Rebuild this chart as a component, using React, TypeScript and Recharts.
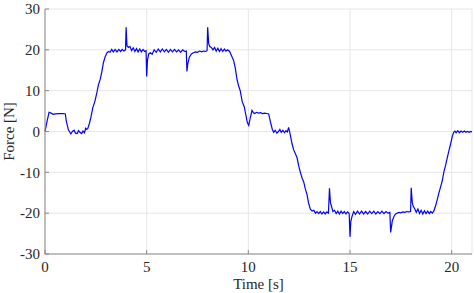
import React from 'react';
import { LineChart, Line, XAxis, YAxis, CartesianGrid } from 'recharts';

// [time s, force N], segment by segment
const startStep = [
  [0, 0], [0.1, 2.5], [0.2, 4.7], [0.3, 4.5], [0.4, 4.2], [0.5, 4.3], [0.7, 4.4], [0.9, 4.4],
  [1.0, 4.3], [1.05, 2.5], [1.15, 0.4], [1.27, -0.6], [1.35, 0.0], [1.43, 0.3], [1.5, -0.4],
  [1.58, -0.5], [1.65, 0.2], [1.72, -0.2], [1.8, -0.5], [1.87, 0.1], [1.94, -0.3], [2.0, 0.8],
  [2.05, 0.5], [2.1, 0.7],
];
const riseToTop = [
  [2.18, 1.9], [2.26, 3.5], [2.35, 5.8], [2.46, 7.5], [2.55, 9.5], [2.63, 11.5], [2.71, 12.7],
  [2.79, 14.5], [2.87, 16.8], [2.96, 18.3], [3.04, 19.2], [3.12, 19.6],
];
const topPlateau = [
  [3.2, 19.4], [3.28, 20.1], [3.36, 19.5], [3.45, 20.1], [3.54, 19.5], [3.63, 20.1], [3.72, 19.6],
  [3.8, 20.1], [3.88, 19.7], [3.96, 20.0], [3.99, 25.5], [4.03, 21.0], [4.1, 20.6], [4.18, 20.8],
  [4.26, 19.8], [4.34, 20.5], [4.42, 19.6], [4.5, 20.3], [4.58, 19.5], [4.66, 20.2], [4.74, 19.5],
  [4.82, 20.1], [4.9, 19.6], [4.97, 19.8], [5.0, 13.5], [5.04, 17.5], [5.1, 19.0], [5.18, 19.3],
  [5.27, 18.9], [5.37, 20.0], [5.47, 19.4], [5.57, 20.2], [5.67, 19.5], [5.77, 20.2], [5.87, 19.5],
  [5.97, 20.1], [6.07, 19.4], [6.17, 20.1], [6.27, 19.5], [6.37, 20.1], [6.47, 19.5], [6.57, 20.0],
  [6.67, 19.4], [6.77, 20.0], [6.87, 19.6], [6.95, 19.7], [6.98, 14.7], [7.02, 16.5], [7.1, 18.2],
  [7.2, 19.0], [7.3, 19.3], [7.4, 19.5], [7.5, 19.4], [7.6, 19.7], [7.7, 19.5], [7.8, 19.7],
  [7.9, 19.6], [7.97, 19.8], [8.0, 25.5], [8.05, 21.5], [8.1, 20.8], [8.18, 20.6], [8.26, 20.0],
  [8.34, 20.6], [8.42, 19.7], [8.5, 20.4], [8.58, 19.6], [8.66, 20.3], [8.74, 19.6], [8.82, 20.2],
  [8.9, 19.7], [8.98, 20.0], [9.08, 19.6],
];
const fallToMid = [
  [9.18, 18.5], [9.28, 17.3], [9.36, 15.5], [9.44, 12.8], [9.52, 11.2], [9.6, 10.0], [9.7, 7.3],
  [9.8, 6.0], [9.88, 4.0], [9.95, 2.2], [10.02, 1.5],
];
const midStep = [
  [10.08, 3.0], [10.18, 5.2], [10.25, 4.6], [10.32, 4.4], [10.4, 4.7], [10.5, 4.5], [10.6, 4.6],
  [10.7, 4.4], [10.8, 4.5], [10.9, 4.4], [11.0, 4.3], [11.08, 2.5], [11.18, 0.5], [11.25, -0.2],
  [11.32, 0.3], [11.4, -0.4], [11.48, 0.0], [11.55, 0.5], [11.62, -0.2], [11.7, 0.3], [11.78, -0.3],
  [11.85, 0.2], [11.92, -0.1], [11.98, 1.0], [12.05, -0.5],
];
const fallToBottom = [
  [12.15, -3.0], [12.23, -4.5], [12.32, -5.5], [12.4, -6.5], [12.48, -8.5], [12.56, -10.0],
  [12.65, -11.5], [12.72, -12.3], [12.8, -14.0], [12.89, -15.5], [12.96, -17.5], [13.05, -19.0],
  [13.14, -19.5], [13.22, -19.3], [13.3, -20.0],
];
const bottomPlateau = [
  [13.38, -19.6], [13.46, -20.1], [13.54, -19.6], [13.62, -20.2], [13.7, -19.7], [13.78, -20.2],
  [13.86, -19.7], [13.94, -20.0], [13.99, -13.9], [14.04, -17.5], [14.09, -18.3], [14.16, -19.6],
  [14.24, -19.3], [14.32, -20.1], [14.4, -19.5], [14.48, -20.2], [14.56, -19.5], [14.64, -20.1],
  [14.72, -19.6], [14.8, -20.2], [14.88, -19.7], [14.96, -20.1], [15.0, -25.8], [15.04, -22.0],
  [15.1, -20.8], [15.18, -19.6], [15.27, -20.3], [15.37, -19.5], [15.47, -20.2], [15.57, -19.5],
  [15.67, -20.2], [15.77, -19.6], [15.87, -20.2], [15.97, -19.5], [16.07, -20.1], [16.17, -19.5],
  [16.27, -20.2], [16.37, -19.6], [16.47, -20.1], [16.57, -19.5], [16.67, -20.1], [16.77, -19.6],
  [16.87, -20.0], [16.96, -19.8], [17.0, -24.7], [17.08, -21.9], [17.16, -20.8], [17.24, -20.2],
  [17.4, -19.8], [17.5, -19.9], [17.6, -19.7], [17.7, -19.8], [17.8, -19.6], [17.9, -19.7],
  [17.98, -19.6], [18.01, -13.8], [18.06, -17.3], [18.1, -18.2], [18.18, -18.9], [18.26, -19.8],
  [18.34, -19.0], [18.42, -20.1], [18.5, -19.3], [18.58, -20.2], [18.66, -19.4], [18.74, -20.1],
  [18.82, -19.5], [18.9, -20.1], [18.97, -19.6], [19.05, -20.0],
];
const riseToZero = [
  [19.12, -19.5], [19.21, -18.2], [19.3, -16.5], [19.38, -14.9], [19.46, -13.5], [19.54, -12.0],
  [19.62, -9.8], [19.7, -8.3], [19.78, -6.5], [19.86, -4.8], [19.95, -3.0], [20.03, -1.2],
  [20.1, -0.2],
];
const endFlat = [
  [20.16, 0.1], [20.22, -0.3], [20.3, 0.2], [20.38, -0.3], [20.46, 0.1], [20.54, -0.2], [20.62, 0.1],
  [20.7, -0.2], [20.78, 0.0], [20.86, -0.2], [20.94, 0.0], [21.0, -0.1],
];

const xTicks = [0, 5, 10, 15, 20];
const yTicks = [-30, -20, -10, 0, 10, 20, 30];

const data = [
  startStep, riseToTop, topPlateau, fallToMid, midStep,
  fallToBottom, bottomPlateau, riseToZero, endFlat,
].flat().map(([t, f]) => ({ t, f }));

const font = 'Liberation Serif, Times New Roman, serif';
const axisColor = '#8a8a8a';
const tickStyle = { fill: '#262626', fontSize: 15, fontFamily: font };

export default function App() {
  return (
    <div style={{ position: 'fixed', left: 0, top: 0, width: 474, height: 293, background: '#fff' }}>
      <LineChart width={474} height={293} data={data} margin={{ top: 9, right: 2, left: 0, bottom: 0 }}>
        <CartesianGrid stroke="#e6e6e6" />
        <XAxis
          dataKey="t"
          type="number"
          domain={[0, 21]}
          ticks={xTicks}
          height={39}
          stroke={axisColor}
          tickSize={-4}
          tickMargin={11}
          tick={tickStyle}
          label={{ value: 'Time [s]', position: 'insideBottom', offset: 4, fill: '#262626', fontSize: 15, fontFamily: font }}
        />
        <XAxis
          xAxisId="top"
          orientation="top"
          type="number"
          domain={[0, 21]}
          ticks={xTicks}
          height={0}
          stroke={axisColor}
          tickSize={-4}
          tick={false}
        />
        <YAxis
          type="number"
          domain={[-30, 30]}
          ticks={yTicks}
          width={45}
          stroke={axisColor}
          tickSize={-4}
          tickMargin={9}
          tick={tickStyle}
          label={{ value: 'Force [N]', angle: -90, position: 'insideLeft', offset: 9, fill: '#262626', fontSize: 15, fontFamily: font, style: { textAnchor: 'middle' } }}
        />
        <YAxis
          yAxisId="right"
          orientation="right"
          type="number"
          domain={[-30, 30]}
          ticks={yTicks}
          width={0}
          stroke={axisColor}
          tickSize={-4}
          tick={false}
        />
        <Line
          type="linear"
          dataKey="f"
          stroke="#0000ff"
          strokeWidth={1.2}
          dot={false}
          isAnimationActive={false}
        />
      </LineChart>
    </div>
  );
}
